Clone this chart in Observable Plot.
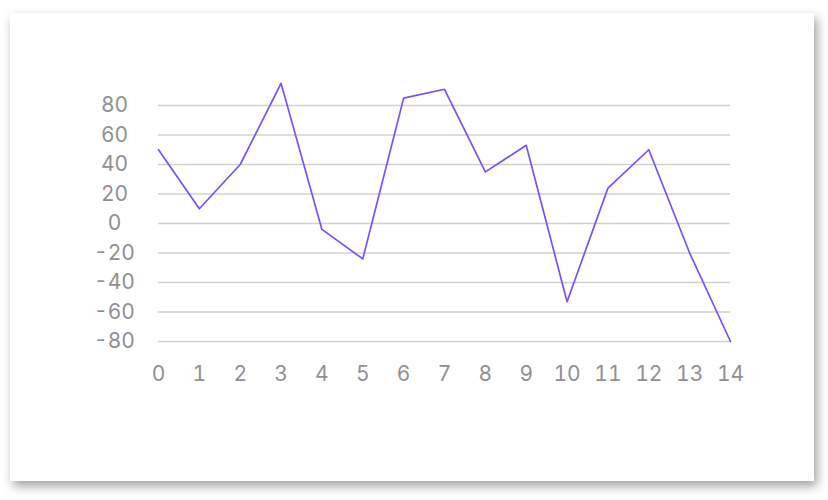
<!DOCTYPE html>
<html>
<head>
<meta charset="utf-8">
<script src="https://cdn.jsdelivr.net/npm/d3@7"></script>
<script src="https://cdn.jsdelivr.net/npm/@observablehq/plot@0.6"></script>
<style>
  html, body { margin: 0; padding: 0; background: #ffffff; }
  #wrap { position: relative; width: 828px; height: 500px; overflow: hidden; }
  #card {
    position: absolute; left: 10px; top: 13px; width: 804px; height: 468px;
    background: #ffffff;
    box-shadow: 3px 5px 10px rgba(0,0,0,0.38);
  }
  #chart { position: absolute; left: 0; top: 0; }
</style>
</head>
<body>
<div id="wrap">
  <div id="card"></div>
  <div id="chart"></div>
</div>
<script>
const xValues = [0, 1, 2, 3, 4, 5, 6, 7, 8, 9, 10, 11, 12, 13, 14];
const yValues = [50, 10, 40, 95, -4, -24, 85, 91, 35, 53, -53, 24, 50, -20, -80];
const yTicks = [-80, -60, -40, -20, 0, 20, 40, 60, 80];
const xTicks = [0, 1, 2, 3, 4, 5, 6, 7, 8, 9, 10, 11, 12, 13, 14];

const data = xValues.map((x, i) => ({x, y: yValues[i]}));

const chart = Plot.plot({
  width: 828,
  height: 500,
  marginLeft: 158,
  marginRight: 98,
  marginTop: 105,
  marginBottom: 159,
  style: {fontFamily: "Inter, 'Noto Sans', sans-serif", color: "#8e8e93", background: "transparent"},
  x: {domain: [0, 14]},
  y: {domain: [-80, 80]},
  marks: [
    Plot.ruleY(yTicks, {stroke: "#d0d0d0", strokeWidth: 1.6}),
    Plot.axisY(yTicks, {tickSize: 0, tickPadding: 44, textAnchor: "middle", label: null, fill: "#909094", fontSize: 21, tickFormat: d => String(d)}),
    Plot.axisX(xTicks, {tickSize: 0, tickPadding: 25, label: null, fill: "#909094", fontSize: 21, tickFormat: d => String(d)}),
    Plot.line(data, {x: "x", y: "y", stroke: "#7c4dff", strokeWidth: 1.7})
  ]
});
document.getElementById("chart").appendChild(chart);
</script>
</body>
</html>
